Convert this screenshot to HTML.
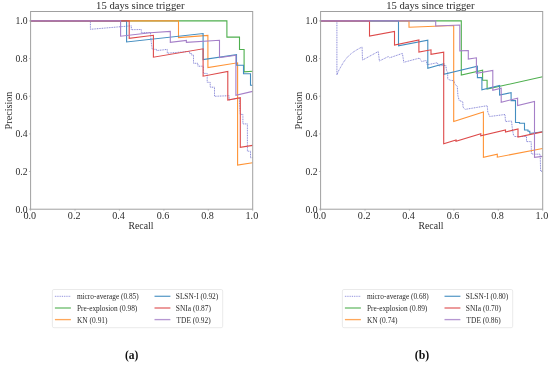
<!DOCTYPE html>
<html lang="en"><head><meta charset="utf-8"><title>Precision-recall curves, 15 days since trigger</title>
<style>
html,body{margin:0;padding:0;background:#fff;}
body{width:550px;height:365px;overflow:hidden;}
svg{display:block;}
svg text{font-family:"Liberation Serif","DejaVu Serif",serif;fill:#2b2b2b;}
.cap{font-weight:bold;fill:#111;}
</style></head><body>
<svg width="550" height="365" viewBox="0 0 550 365">
<rect width="550" height="365" fill="#fff"/>
<g>
<polyline points="30.6,20.9 90.4,20.9 90.4,29.3 131.3,25.8 131.3,29.7 141.3,29.5 141.3,32.7 150.5,32.5 151.0,40.0 152.2,49.3 156.4,49.3 156.4,50.6 167.3,49.4 167.3,53.2 189.6,51.4 189.6,53.5 191.5,53.5 191.5,55.0 193.5,55.0 193.5,63.3 197.9,63.3 197.9,66.2 203.4,66.2 203.4,73.4 207.2,73.4 207.2,82.3 210.2,82.3 210.2,87.2 214.5,87.2 214.5,96.3 229.1,95.7 229.1,100.0 239.3,98.0 239.7,105.5 240.3,114.4 242.9,114.4 242.9,123.9 247.4,123.9 247.4,151.2 250.5,151.2 250.5,157.7 252.6,157.7" fill="none" stroke="#7a7ad3" stroke-width="0.9" stroke-linejoin="miter" stroke-opacity="1" stroke-dasharray="1 0.7"/>
<polyline points="30.6,20.9 226.9,20.9 226.9,37.1 239.5,37.1 239.5,49.5 244.1,49.5 244.1,71.9 252.6,71.3" fill="none" stroke="#4eaf4e" stroke-width="1.1" stroke-linejoin="miter" stroke-opacity="1"/>
<polyline points="30.6,20.9 178.5,20.9 178.5,37.6 207.9,35.4 207.9,67.6 237.6,62.8 237.6,165.1 252.6,162.7" fill="none" stroke="#ff9335" stroke-width="1.1" stroke-linejoin="miter" stroke-opacity="1"/>
<polyline points="30.6,20.9 126.6,20.9 126.6,42.0 203.1,33.5 203.1,59.5 236.5,54.7 236.5,65.2 243.5,65.2 243.5,73.7 250.5,73.7 250.5,85.2 252.6,85.2" fill="none" stroke="#438dc0" stroke-width="1.1" stroke-linejoin="miter" stroke-opacity="1"/>
<polyline points="30.6,20.9 129.2,20.9 129.2,38.3 153.4,35.3 153.4,57.2 203.1,48.8 203.1,76.2 227.8,71.5 227.8,100.1 240.3,97.7 240.3,147.3 252.6,145.4" fill="none" stroke="#dd4a4a" stroke-width="1.1" stroke-linejoin="miter" stroke-opacity="1"/>
<polyline points="30.6,20.9 120.6,20.9 120.6,36.2 150.3,32.7 170.3,31.4 170.3,42.4 186.4,40.4 186.4,42.4 219.5,40.3 219.5,57.6 235.9,55.3 235.9,95.2 252.6,91.4" fill="none" stroke="#a57fc8" stroke-width="1.1" stroke-linejoin="miter" stroke-opacity="1"/>
<rect x="30.6" y="11.5" width="222.1" height="197.7" fill="none" stroke="#a0a0a0" stroke-width="1"/>
<line x1="29.0" y1="209.2" x2="30.6" y2="209.2" stroke="#a0a0a0" stroke-width="0.7"/>
<line x1="30.6" y1="209.2" x2="30.6" y2="210.8" stroke="#a0a0a0" stroke-width="0.7"/>
<text x="27.5" y="212.5" text-anchor="end" font-size="10.1" textLength="12.1" lengthAdjust="spacingAndGlyphs">0.0</text>
<text x="29.8" y="218.7" text-anchor="middle" font-size="10.1" textLength="12.7" lengthAdjust="spacingAndGlyphs">0.0</text>
<line x1="29.0" y1="171.5" x2="30.6" y2="171.5" stroke="#a0a0a0" stroke-width="0.7"/>
<line x1="75.0" y1="209.2" x2="75.0" y2="210.8" stroke="#a0a0a0" stroke-width="0.7"/>
<text x="27.5" y="174.8" text-anchor="end" font-size="10.1" textLength="12.1" lengthAdjust="spacingAndGlyphs">0.2</text>
<text x="74.2" y="218.7" text-anchor="middle" font-size="10.1" textLength="12.7" lengthAdjust="spacingAndGlyphs">0.2</text>
<line x1="29.0" y1="133.9" x2="30.6" y2="133.9" stroke="#a0a0a0" stroke-width="0.7"/>
<line x1="119.4" y1="209.2" x2="119.4" y2="210.8" stroke="#a0a0a0" stroke-width="0.7"/>
<text x="27.5" y="137.2" text-anchor="end" font-size="10.1" textLength="12.1" lengthAdjust="spacingAndGlyphs">0.4</text>
<text x="118.6" y="218.7" text-anchor="middle" font-size="10.1" textLength="12.7" lengthAdjust="spacingAndGlyphs">0.4</text>
<line x1="29.0" y1="96.2" x2="30.6" y2="96.2" stroke="#a0a0a0" stroke-width="0.7"/>
<line x1="163.9" y1="209.2" x2="163.9" y2="210.8" stroke="#a0a0a0" stroke-width="0.7"/>
<text x="27.5" y="99.5" text-anchor="end" font-size="10.1" textLength="12.1" lengthAdjust="spacingAndGlyphs">0.6</text>
<text x="163.1" y="218.7" text-anchor="middle" font-size="10.1" textLength="12.7" lengthAdjust="spacingAndGlyphs">0.6</text>
<line x1="29.0" y1="58.6" x2="30.6" y2="58.6" stroke="#a0a0a0" stroke-width="0.7"/>
<line x1="208.3" y1="209.2" x2="208.3" y2="210.8" stroke="#a0a0a0" stroke-width="0.7"/>
<text x="27.5" y="61.9" text-anchor="end" font-size="10.1" textLength="12.1" lengthAdjust="spacingAndGlyphs">0.8</text>
<text x="207.5" y="218.7" text-anchor="middle" font-size="10.1" textLength="12.7" lengthAdjust="spacingAndGlyphs">0.8</text>
<line x1="29.0" y1="20.9" x2="30.6" y2="20.9" stroke="#a0a0a0" stroke-width="0.7"/>
<line x1="252.7" y1="209.2" x2="252.7" y2="210.8" stroke="#a0a0a0" stroke-width="0.7"/>
<text x="27.5" y="24.2" text-anchor="end" font-size="10.1" textLength="12.1" lengthAdjust="spacingAndGlyphs">1.0</text>
<text x="251.9" y="218.7" text-anchor="middle" font-size="10.1" textLength="12.7" lengthAdjust="spacingAndGlyphs">1.0</text>
<text x="140.3" y="9.4" text-anchor="middle" font-size="10.4" textLength="88.4" lengthAdjust="spacingAndGlyphs">15 days since trigger</text>
<text x="141.0" y="229" text-anchor="middle" font-size="10.2" textLength="25" lengthAdjust="spacingAndGlyphs">Recall</text>
<text transform="translate(11.7,110.5) rotate(-90)" text-anchor="middle" font-size="10.2" textLength="37.8" lengthAdjust="spacingAndGlyphs">Precision</text>
<rect x="52.4" y="289.5" width="170.3" height="38.2" rx="1.5" fill="#fff" stroke="#e5e5e5" stroke-width="0.8"/>
<line x1="54.9" y1="296.3" x2="70.9" y2="296.3" stroke="#9c9ce0" stroke-width="1.35" stroke-opacity="1" stroke-dasharray="0.9 0.9"/>
<text x="76.9" y="299.3" font-size="8.2" textLength="61.8" lengthAdjust="spacingAndGlyphs">micro-average (0.85)</text>
<line x1="54.9" y1="308.0" x2="70.9" y2="308.0" stroke="#70be70" stroke-width="1.35" stroke-opacity="1"/>
<text x="76.9" y="311.0" font-size="8.2" textLength="60.4" lengthAdjust="spacingAndGlyphs">Pre-explosion (0.98)</text>
<line x1="54.9" y1="319.6" x2="70.9" y2="319.6" stroke="#ffa85b" stroke-width="1.35" stroke-opacity="1"/>
<text x="76.9" y="322.6" font-size="8.2" textLength="30.7" lengthAdjust="spacingAndGlyphs">KN (0.91)</text>
<line x1="154.5" y1="296.3" x2="170.4" y2="296.3" stroke="#67a3cc" stroke-width="1.35" stroke-opacity="1"/>
<text x="175.8" y="299.3" font-size="8.2" textLength="42.4" lengthAdjust="spacingAndGlyphs">SLSN-I (0.92)</text>
<line x1="154.5" y1="308.0" x2="170.4" y2="308.0" stroke="#e36c6d" stroke-width="1.35" stroke-opacity="1"/>
<text x="175.8" y="311.0" font-size="8.2" textLength="35.1" lengthAdjust="spacingAndGlyphs">SNIa (0.87)</text>
<line x1="154.5" y1="319.6" x2="170.4" y2="319.6" stroke="#b698d2" stroke-width="1.35" stroke-opacity="1"/>
<text x="176.6" y="322.6" font-size="8.2" textLength="34.0" lengthAdjust="spacingAndGlyphs">TDE (0.92)</text>
</g>
<g>
<polyline points="320.6,20.9 336.9,20.9 336.9,75.0 338.5,71.0 340.5,67.4 343.5,62.2 346.8,57.8 350.0,54.6 353.2,52.1 356.5,50.0 359.5,48.3 362.1,47.0 362.5,60.1 378.3,51.5 379.4,61.0 388.4,56.5 389.6,57.8 402.4,53.4 403.8,62.3 419.5,58.1 421.8,61.6 426.0,60.4 427.2,64.8 437.4,62.7 438.4,65.8 445.8,65.4 446.6,70.5 447.7,72.5 447.7,79.0 450.3,80.2 454.0,80.8 454.8,84.0 457.3,86.5 457.9,95.5 459.2,100.5 462.8,101.8 463.0,107.0 465.0,109.4 487.2,105.7 487.8,112.0 489.7,116.5 505.0,114.5 505.5,121.5 511.5,121.0 512.5,130.0 513.5,135.0 514.5,136.5 526.5,136.5 526.5,141.6 531.2,141.6 531.4,153.7 534.0,154.2 540.2,154.2 540.6,171.2 542.4,171.2" fill="none" stroke="#7a7ad3" stroke-width="0.9" stroke-linejoin="miter" stroke-opacity="1" stroke-dasharray="1 0.7"/>
<polyline points="320.6,20.9 461.3,20.9 461.3,75.0 482.6,70.3 482.6,80.3 487.1,80.3 487.1,89.1 542.6,76.8" fill="none" stroke="#4eaf4e" stroke-width="1.1" stroke-linejoin="miter" stroke-opacity="1"/>
<polyline points="320.6,20.9 409.0,20.9 409.0,27.2 453.7,25.5 453.7,121.4 483.4,112.1 483.4,157.4 497.3,154.2 497.3,157.2 542.6,148.5" fill="none" stroke="#ff9335" stroke-width="1.1" stroke-linejoin="miter" stroke-opacity="1"/>
<polyline points="320.6,20.9 398.5,20.9 398.5,45.9 427.8,40.2 427.8,68.3 443.8,63.8 443.8,74.4 477.4,66.1 477.4,77.6 481.9,77.6 481.9,89.8 499.6,85.5 499.6,95.0 511.1,92.6 511.1,100.6 515.5,100.6 515.5,122.5 519.5,122.5 519.5,123.3 524.5,123.3 524.5,130.0 528.0,130.0 528.0,131.3 529.8,131.3 529.8,133.2 531.5,133.2 542.6,131.8" fill="none" stroke="#438dc0" stroke-width="1.1" stroke-linejoin="miter" stroke-opacity="1"/>
<polyline points="320.6,20.9 369.5,20.9 369.5,36.1 394.5,31.4 394.5,45.0 418.9,39.9 418.9,52.0 431.0,49.8 431.0,54.4 443.7,52.1 443.7,143.8 456.0,140.0 456.0,141.3 480.8,133.8 480.8,135.8 505.5,130.0 505.5,132.0 518.0,129.0 518.0,137.0 542.6,131.9" fill="none" stroke="#dd4a4a" stroke-width="1.1" stroke-linejoin="miter" stroke-opacity="1"/>
<polyline points="320.6,20.9 435.7,20.9 435.7,26.0 459.8,25.0 459.8,50.9 468.3,50.5 468.3,59.1 476.4,57.8 476.4,73.3 492.8,70.4 492.8,90.4 501.2,88.3 501.2,102.2 517.6,98.2 517.6,105.5 534.5,101.5 534.5,157.3 542.6,156.4" fill="none" stroke="#a57fc8" stroke-width="1.1" stroke-linejoin="miter" stroke-opacity="1"/>
<rect x="320.6" y="11.5" width="222.1" height="197.7" fill="none" stroke="#a0a0a0" stroke-width="1"/>
<line x1="319.0" y1="209.2" x2="320.6" y2="209.2" stroke="#a0a0a0" stroke-width="0.7"/>
<line x1="320.6" y1="209.2" x2="320.6" y2="210.8" stroke="#a0a0a0" stroke-width="0.7"/>
<text x="317.5" y="212.5" text-anchor="end" font-size="10.1" textLength="12.1" lengthAdjust="spacingAndGlyphs">0.0</text>
<text x="319.8" y="218.7" text-anchor="middle" font-size="10.1" textLength="12.7" lengthAdjust="spacingAndGlyphs">0.0</text>
<line x1="319.0" y1="171.5" x2="320.6" y2="171.5" stroke="#a0a0a0" stroke-width="0.7"/>
<line x1="365.0" y1="209.2" x2="365.0" y2="210.8" stroke="#a0a0a0" stroke-width="0.7"/>
<text x="317.5" y="174.8" text-anchor="end" font-size="10.1" textLength="12.1" lengthAdjust="spacingAndGlyphs">0.2</text>
<text x="364.2" y="218.7" text-anchor="middle" font-size="10.1" textLength="12.7" lengthAdjust="spacingAndGlyphs">0.2</text>
<line x1="319.0" y1="133.9" x2="320.6" y2="133.9" stroke="#a0a0a0" stroke-width="0.7"/>
<line x1="409.4" y1="209.2" x2="409.4" y2="210.8" stroke="#a0a0a0" stroke-width="0.7"/>
<text x="317.5" y="137.2" text-anchor="end" font-size="10.1" textLength="12.1" lengthAdjust="spacingAndGlyphs">0.4</text>
<text x="408.6" y="218.7" text-anchor="middle" font-size="10.1" textLength="12.7" lengthAdjust="spacingAndGlyphs">0.4</text>
<line x1="319.0" y1="96.2" x2="320.6" y2="96.2" stroke="#a0a0a0" stroke-width="0.7"/>
<line x1="453.9" y1="209.2" x2="453.9" y2="210.8" stroke="#a0a0a0" stroke-width="0.7"/>
<text x="317.5" y="99.5" text-anchor="end" font-size="10.1" textLength="12.1" lengthAdjust="spacingAndGlyphs">0.6</text>
<text x="453.1" y="218.7" text-anchor="middle" font-size="10.1" textLength="12.7" lengthAdjust="spacingAndGlyphs">0.6</text>
<line x1="319.0" y1="58.6" x2="320.6" y2="58.6" stroke="#a0a0a0" stroke-width="0.7"/>
<line x1="498.3" y1="209.2" x2="498.3" y2="210.8" stroke="#a0a0a0" stroke-width="0.7"/>
<text x="317.5" y="61.9" text-anchor="end" font-size="10.1" textLength="12.1" lengthAdjust="spacingAndGlyphs">0.8</text>
<text x="497.5" y="218.7" text-anchor="middle" font-size="10.1" textLength="12.7" lengthAdjust="spacingAndGlyphs">0.8</text>
<line x1="319.0" y1="20.9" x2="320.6" y2="20.9" stroke="#a0a0a0" stroke-width="0.7"/>
<line x1="542.7" y1="209.2" x2="542.7" y2="210.8" stroke="#a0a0a0" stroke-width="0.7"/>
<text x="317.5" y="24.2" text-anchor="end" font-size="10.1" textLength="12.1" lengthAdjust="spacingAndGlyphs">1.0</text>
<text x="541.9" y="218.7" text-anchor="middle" font-size="10.1" textLength="12.7" lengthAdjust="spacingAndGlyphs">1.0</text>
<text x="430.4" y="9.4" text-anchor="middle" font-size="10.4" textLength="88.4" lengthAdjust="spacingAndGlyphs">15 days since trigger</text>
<text x="431.0" y="229" text-anchor="middle" font-size="10.2" textLength="25" lengthAdjust="spacingAndGlyphs">Recall</text>
<text transform="translate(301.7,110.5) rotate(-90)" text-anchor="middle" font-size="10.2" textLength="37.8" lengthAdjust="spacingAndGlyphs">Precision</text>
<rect x="342.4" y="289.5" width="170.3" height="38.2" rx="1.5" fill="#fff" stroke="#e5e5e5" stroke-width="0.8"/>
<line x1="344.9" y1="296.3" x2="360.9" y2="296.3" stroke="#9c9ce0" stroke-width="1.35" stroke-opacity="1" stroke-dasharray="0.9 0.9"/>
<text x="366.9" y="299.3" font-size="8.2" textLength="61.8" lengthAdjust="spacingAndGlyphs">micro-average (0.68)</text>
<line x1="344.9" y1="308.0" x2="360.9" y2="308.0" stroke="#70be70" stroke-width="1.35" stroke-opacity="1"/>
<text x="366.9" y="311.0" font-size="8.2" textLength="60.4" lengthAdjust="spacingAndGlyphs">Pre-explosion (0.89)</text>
<line x1="344.9" y1="319.6" x2="360.9" y2="319.6" stroke="#ffa85b" stroke-width="1.35" stroke-opacity="1"/>
<text x="366.9" y="322.6" font-size="8.2" textLength="30.7" lengthAdjust="spacingAndGlyphs">KN (0.74)</text>
<line x1="444.5" y1="296.3" x2="460.4" y2="296.3" stroke="#67a3cc" stroke-width="1.35" stroke-opacity="1"/>
<text x="465.8" y="299.3" font-size="8.2" textLength="42.4" lengthAdjust="spacingAndGlyphs">SLSN-I (0.80)</text>
<line x1="444.5" y1="308.0" x2="460.4" y2="308.0" stroke="#e36c6d" stroke-width="1.35" stroke-opacity="1"/>
<text x="465.8" y="311.0" font-size="8.2" textLength="35.1" lengthAdjust="spacingAndGlyphs">SNIa (0.70)</text>
<line x1="444.5" y1="319.6" x2="460.4" y2="319.6" stroke="#b698d2" stroke-width="1.35" stroke-opacity="1"/>
<text x="466.6" y="322.6" font-size="8.2" textLength="34.0" lengthAdjust="spacingAndGlyphs">TDE (0.86)</text>
</g>
<text class="cap" x="125" y="358.8" font-size="11.5" textLength="13.4" lengthAdjust="spacingAndGlyphs">(a)</text>
<text class="cap" x="414.7" y="358.8" font-size="11.5" textLength="14.5" lengthAdjust="spacingAndGlyphs">(b)</text>
</svg>
</body></html>
